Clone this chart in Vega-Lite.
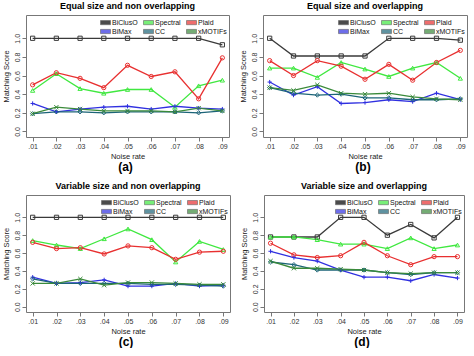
{
  "$schema": "https://vega.github.io/schema/vega-lite/v6.json",
  "background": "white",
  "padding": {"left": 1, "top": 1, "right": 0, "bottom": 0},
  "config": {
    "font": "Liberation Sans",
    "view": {"stroke": "#777777", "strokeWidth": 1},
    "axis": {"domain": false, "grid": false, "tickColor": "#777777", "tickSize": 4, "labelFontSize": 7, "labelColor": "#333333", "titleFontSize": 7.5, "titleFontWeight": "normal", "titleColor": "#222222", "labelFont": "Liberation Sans", "titleFont": "Liberation Sans"},
    "title": {"fontSize": 9, "fontWeight": "bold", "font": "Liberation Sans", "color": "#000000"}
  },
  "data": {"values": [
    {"p":"a","m":"BiClusO","x":0.01,"y":1},{"p":"a","m":"BiClusO","x":0.02,"y":1},{"p":"a","m":"BiClusO","x":0.03,"y":1},{"p":"a","m":"BiClusO","x":0.04,"y":1},{"p":"a","m":"BiClusO","x":0.05,"y":1},{"p":"a","m":"BiClusO","x":0.06,"y":1},{"p":"a","m":"BiClusO","x":0.07,"y":1},{"p":"a","m":"BiClusO","x":0.08,"y":1},{"p":"a","m":"BiClusO","x":0.09,"y":0.93},
    {"p":"a","m":"Spectral","x":0.01,"y":0.44},{"p":"a","m":"Spectral","x":0.02,"y":0.62},{"p":"a","m":"Spectral","x":0.03,"y":0.46},{"p":"a","m":"Spectral","x":0.04,"y":0.41},{"p":"a","m":"Spectral","x":0.05,"y":0.45},{"p":"a","m":"Spectral","x":0.06,"y":0.45},{"p":"a","m":"Spectral","x":0.07,"y":0.26},{"p":"a","m":"Spectral","x":0.08,"y":0.49},{"p":"a","m":"Spectral","x":0.09,"y":0.55},
    {"p":"a","m":"Plaid","x":0.01,"y":0.50},{"p":"a","m":"Plaid","x":0.02,"y":0.63},{"p":"a","m":"Plaid","x":0.03,"y":0.57},{"p":"a","m":"Plaid","x":0.04,"y":0.47},{"p":"a","m":"Plaid","x":0.05,"y":0.71},{"p":"a","m":"Plaid","x":0.06,"y":0.59},{"p":"a","m":"Plaid","x":0.07,"y":0.64},{"p":"a","m":"Plaid","x":0.08,"y":0.35},{"p":"a","m":"Plaid","x":0.09,"y":0.79},
    {"p":"a","m":"BiMax","x":0.01,"y":0.30},{"p":"a","m":"BiMax","x":0.02,"y":0.21},{"p":"a","m":"BiMax","x":0.03,"y":0.24},{"p":"a","m":"BiMax","x":0.04,"y":0.26},{"p":"a","m":"BiMax","x":0.05,"y":0.27},{"p":"a","m":"BiMax","x":0.06,"y":0.24},{"p":"a","m":"BiMax","x":0.07,"y":0.27},{"p":"a","m":"BiMax","x":0.08,"y":0.25},{"p":"a","m":"BiMax","x":0.09,"y":0.24},
    {"p":"a","m":"CC","x":0.01,"y":0.19},{"p":"a","m":"CC","x":0.02,"y":0.21},{"p":"a","m":"CC","x":0.03,"y":0.21},{"p":"a","m":"CC","x":0.04,"y":0.20},{"p":"a","m":"CC","x":0.05,"y":0.21},{"p":"a","m":"CC","x":0.06,"y":0.21},{"p":"a","m":"CC","x":0.07,"y":0.21},{"p":"a","m":"CC","x":0.08,"y":0.20},{"p":"a","m":"CC","x":0.09,"y":0.22},
    {"p":"a","m":"xMOTIFs","x":0.01,"y":0.19},{"p":"a","m":"xMOTIFs","x":0.02,"y":0.26},{"p":"a","m":"xMOTIFs","x":0.03,"y":0.24},{"p":"a","m":"xMOTIFs","x":0.04,"y":0.22},{"p":"a","m":"xMOTIFs","x":0.05,"y":0.22},{"p":"a","m":"xMOTIFs","x":0.06,"y":0.22},{"p":"a","m":"xMOTIFs","x":0.07,"y":0.21},{"p":"a","m":"xMOTIFs","x":0.08,"y":0.25},{"p":"a","m":"xMOTIFs","x":0.09,"y":0.22},

    {"p":"b","m":"BiClusO","x":0.01,"y":1},{"p":"b","m":"BiClusO","x":0.02,"y":0.81},{"p":"b","m":"BiClusO","x":0.03,"y":0.81},{"p":"b","m":"BiClusO","x":0.04,"y":0.81},{"p":"b","m":"BiClusO","x":0.05,"y":0.81},{"p":"b","m":"BiClusO","x":0.06,"y":1},{"p":"b","m":"BiClusO","x":0.07,"y":1},{"p":"b","m":"BiClusO","x":0.08,"y":1},{"p":"b","m":"BiClusO","x":0.09,"y":0.98},
    {"p":"b","m":"Spectral","x":0.01,"y":0.68},{"p":"b","m":"Spectral","x":0.02,"y":0.68},{"p":"b","m":"Spectral","x":0.03,"y":0.58},{"p":"b","m":"Spectral","x":0.04,"y":0.74},{"p":"b","m":"Spectral","x":0.05,"y":0.67},{"p":"b","m":"Spectral","x":0.06,"y":0.59},{"p":"b","m":"Spectral","x":0.07,"y":0.68},{"p":"b","m":"Spectral","x":0.08,"y":0.74},{"p":"b","m":"Spectral","x":0.09,"y":0.57},
    {"p":"b","m":"Plaid","x":0.01,"y":0.76},{"p":"b","m":"Plaid","x":0.02,"y":0.60},{"p":"b","m":"Plaid","x":0.03,"y":0.76},{"p":"b","m":"Plaid","x":0.04,"y":0.70},{"p":"b","m":"Plaid","x":0.05,"y":0.56},{"p":"b","m":"Plaid","x":0.06,"y":0.72},{"p":"b","m":"Plaid","x":0.07,"y":0.55},{"p":"b","m":"Plaid","x":0.08,"y":0.74},{"p":"b","m":"Plaid","x":0.09,"y":0.87},
    {"p":"b","m":"BiMax","x":0.01,"y":0.53},{"p":"b","m":"BiMax","x":0.02,"y":0.39},{"p":"b","m":"BiMax","x":0.03,"y":0.48},{"p":"b","m":"BiMax","x":0.04,"y":0.30},{"p":"b","m":"BiMax","x":0.05,"y":0.31},{"p":"b","m":"BiMax","x":0.06,"y":0.34},{"p":"b","m":"BiMax","x":0.07,"y":0.32},{"p":"b","m":"BiMax","x":0.08,"y":0.41},{"p":"b","m":"BiMax","x":0.09,"y":0.34},
    {"p":"b","m":"CC","x":0.01,"y":0.47},{"p":"b","m":"CC","x":0.02,"y":0.41},{"p":"b","m":"CC","x":0.03,"y":0.39},{"p":"b","m":"CC","x":0.04,"y":0.40},{"p":"b","m":"CC","x":0.05,"y":0.36},{"p":"b","m":"CC","x":0.06,"y":0.36},{"p":"b","m":"CC","x":0.07,"y":0.34},{"p":"b","m":"CC","x":0.08,"y":0.34},{"p":"b","m":"CC","x":0.09,"y":0.35},
    {"p":"b","m":"xMOTIFs","x":0.01,"y":0.47},{"p":"b","m":"xMOTIFs","x":0.02,"y":0.44},{"p":"b","m":"xMOTIFs","x":0.03,"y":0.50},{"p":"b","m":"xMOTIFs","x":0.04,"y":0.41},{"p":"b","m":"xMOTIFs","x":0.05,"y":0.40},{"p":"b","m":"xMOTIFs","x":0.06,"y":0.41},{"p":"b","m":"xMOTIFs","x":0.07,"y":0.37},{"p":"b","m":"xMOTIFs","x":0.08,"y":0.35},{"p":"b","m":"xMOTIFs","x":0.09,"y":0.34},

    {"p":"c","m":"BiClusO","x":0.01,"y":1},{"p":"c","m":"BiClusO","x":0.02,"y":1},{"p":"c","m":"BiClusO","x":0.03,"y":1},{"p":"c","m":"BiClusO","x":0.04,"y":1},{"p":"c","m":"BiClusO","x":0.05,"y":1},{"p":"c","m":"BiClusO","x":0.06,"y":1},{"p":"c","m":"BiClusO","x":0.07,"y":1},{"p":"c","m":"BiClusO","x":0.08,"y":1},{"p":"c","m":"BiClusO","x":0.09,"y":1},
    {"p":"c","m":"Spectral","x":0.01,"y":0.74},{"p":"c","m":"Spectral","x":0.02,"y":0.69},{"p":"c","m":"Spectral","x":0.03,"y":0.65},{"p":"c","m":"Spectral","x":0.04,"y":0.76},{"p":"c","m":"Spectral","x":0.05,"y":0.87},{"p":"c","m":"Spectral","x":0.06,"y":0.75},{"p":"c","m":"Spectral","x":0.07,"y":0.50},{"p":"c","m":"Spectral","x":0.08,"y":0.73},{"p":"c","m":"Spectral","x":0.09,"y":0.64},
    {"p":"c","m":"Plaid","x":0.01,"y":0.72},{"p":"c","m":"Plaid","x":0.02,"y":0.65},{"p":"c","m":"Plaid","x":0.03,"y":0.66},{"p":"c","m":"Plaid","x":0.04,"y":0.59},{"p":"c","m":"Plaid","x":0.05,"y":0.68},{"p":"c","m":"Plaid","x":0.06,"y":0.66},{"p":"c","m":"Plaid","x":0.07,"y":0.53},{"p":"c","m":"Plaid","x":0.08,"y":0.61},{"p":"c","m":"Plaid","x":0.09,"y":0.62},
    {"p":"c","m":"BiMax","x":0.01,"y":0.33},{"p":"c","m":"BiMax","x":0.02,"y":0.26},{"p":"c","m":"BiMax","x":0.03,"y":0.27},{"p":"c","m":"BiMax","x":0.04,"y":0.30},{"p":"c","m":"BiMax","x":0.05,"y":0.23},{"p":"c","m":"BiMax","x":0.06,"y":0.23},{"p":"c","m":"BiMax","x":0.07,"y":0.26},{"p":"c","m":"BiMax","x":0.08,"y":0.23},{"p":"c","m":"BiMax","x":0.09,"y":0.24},
    {"p":"c","m":"CC","x":0.01,"y":0.31},{"p":"c","m":"CC","x":0.02,"y":0.26},{"p":"c","m":"CC","x":0.03,"y":0.26},{"p":"c","m":"CC","x":0.04,"y":0.26},{"p":"c","m":"CC","x":0.05,"y":0.26},{"p":"c","m":"CC","x":0.06,"y":0.25},{"p":"c","m":"CC","x":0.07,"y":0.25},{"p":"c","m":"CC","x":0.08,"y":0.24},{"p":"c","m":"CC","x":0.09,"y":0.23},
    {"p":"c","m":"xMOTIFs","x":0.01,"y":0.26},{"p":"c","m":"xMOTIFs","x":0.02,"y":0.26},{"p":"c","m":"xMOTIFs","x":0.03,"y":0.31},{"p":"c","m":"xMOTIFs","x":0.04,"y":0.24},{"p":"c","m":"xMOTIFs","x":0.05,"y":0.27},{"p":"c","m":"xMOTIFs","x":0.06,"y":0.27},{"p":"c","m":"xMOTIFs","x":0.07,"y":0.26},{"p":"c","m":"xMOTIFs","x":0.08,"y":0.25},{"p":"c","m":"xMOTIFs","x":0.09,"y":0.25},

    {"p":"d","m":"BiClusO","x":0.01,"y":0.78},{"p":"d","m":"BiClusO","x":0.02,"y":0.78},{"p":"d","m":"BiClusO","x":0.03,"y":0.78},{"p":"d","m":"BiClusO","x":0.04,"y":1},{"p":"d","m":"BiClusO","x":0.05,"y":1},{"p":"d","m":"BiClusO","x":0.06,"y":0.80},{"p":"d","m":"BiClusO","x":0.07,"y":0.92},{"p":"d","m":"BiClusO","x":0.08,"y":0.77},{"p":"d","m":"BiClusO","x":0.09,"y":1},
    {"p":"d","m":"Spectral","x":0.01,"y":0.78},{"p":"d","m":"Spectral","x":0.02,"y":0.78},{"p":"d","m":"Spectral","x":0.03,"y":0.75},{"p":"d","m":"Spectral","x":0.04,"y":0.70},{"p":"d","m":"Spectral","x":0.05,"y":0.70},{"p":"d","m":"Spectral","x":0.06,"y":0.65},{"p":"d","m":"Spectral","x":0.07,"y":0.77},{"p":"d","m":"Spectral","x":0.08,"y":0.65},{"p":"d","m":"Spectral","x":0.09,"y":0.69},
    {"p":"d","m":"Plaid","x":0.01,"y":0.71},{"p":"d","m":"Plaid","x":0.02,"y":0.58},{"p":"d","m":"Plaid","x":0.03,"y":0.55},{"p":"d","m":"Plaid","x":0.04,"y":0.57},{"p":"d","m":"Plaid","x":0.05,"y":0.72},{"p":"d","m":"Plaid","x":0.06,"y":0.57},{"p":"d","m":"Plaid","x":0.07,"y":0.47},{"p":"d","m":"Plaid","x":0.08,"y":0.56},{"p":"d","m":"Plaid","x":0.09,"y":0.56},
    {"p":"d","m":"BiMax","x":0.01,"y":0.62},{"p":"d","m":"BiMax","x":0.02,"y":0.55},{"p":"d","m":"BiMax","x":0.03,"y":0.51},{"p":"d","m":"BiMax","x":0.04,"y":0.41},{"p":"d","m":"BiMax","x":0.05,"y":0.33},{"p":"d","m":"BiMax","x":0.06,"y":0.33},{"p":"d","m":"BiMax","x":0.07,"y":0.29},{"p":"d","m":"BiMax","x":0.08,"y":0.36},{"p":"d","m":"BiMax","x":0.09,"y":0.32},
    {"p":"d","m":"CC","x":0.01,"y":0.50},{"p":"d","m":"CC","x":0.02,"y":0.47},{"p":"d","m":"CC","x":0.03,"y":0.41},{"p":"d","m":"CC","x":0.04,"y":0.41},{"p":"d","m":"CC","x":0.05,"y":0.41},{"p":"d","m":"CC","x":0.06,"y":0.38},{"p":"d","m":"CC","x":0.07,"y":0.36},{"p":"d","m":"CC","x":0.08,"y":0.38},{"p":"d","m":"CC","x":0.09,"y":0.38},
    {"p":"d","m":"xMOTIFs","x":0.01,"y":0.51},{"p":"d","m":"xMOTIFs","x":0.02,"y":0.43},{"p":"d","m":"xMOTIFs","x":0.03,"y":0.43},{"p":"d","m":"xMOTIFs","x":0.04,"y":0.42},{"p":"d","m":"xMOTIFs","x":0.05,"y":0.41},{"p":"d","m":"xMOTIFs","x":0.06,"y":0.38},{"p":"d","m":"xMOTIFs","x":0.07,"y":0.37},{"p":"d","m":"xMOTIFs","x":0.08,"y":0.38},{"p":"d","m":"xMOTIFs","x":0.09,"y":0.38}
  ]},
  "resolve": {"scale": {"color": "independent", "fill": "independent", "shape": "independent"}},
  "spacing": 8,
  "vconcat": [
    {
      "spacing": 8,
      "resolve": {"scale": {"color": "independent", "fill": "independent", "shape": "independent"}},
      "hconcat": [
        {
          "title": {"text": "(a)", "orient": "bottom", "anchor": "middle", "fontSize": 12, "offset": 2, "dx": 10},
          "resolve": {"scale": {"color": "independent", "fill": "independent", "shape": "independent"}},
          "vconcat": [{
            "width": 203, "height": 122,
            "title": {"text": "Equal size and non overlapping", "frame": "group", "anchor": "middle", "offset": 4},
            "transform": [{"filter": "datum.p === 'a'"}],
            "encoding": {
              "x": {"field": "x", "type": "quantitative", "title": "Noise rate", "scale": {"domain": [0.0072, 0.0928], "nice": false, "zero": false}, "axis": {"values": [0.01,0.02,0.03,0.04,0.05,0.06,0.07,0.08,0.09], "labelExpr": "substring(format(datum.value,'.2f'),1)", "labelPadding": 1, "titlePadding": 3, "labelOverlap": false, "labelFlush": false}},
              "y": {"field": "y", "type": "quantitative", "title": "Matching Score", "scale": {"domain": [-0.06, 1.25], "nice": false}, "axis": {"values": [0,0.2,0.4,0.6,0.8,1], "format": ".1f", "labelAngle": -90, "labelPadding": 2, "titlePadding": 3}},
              "color": {"field": "m", "type": "nominal", "legend": null, "scale": {"domain": ["BiClusO","Spectral","Plaid","BiMax","CC","xMOTIFs"], "range": ["#3a3a3a","#40e840","#e83030","#3030e0","#1c6478","#3a8a3a"]}}
            },
            "layer": [
              {"mark": {"type": "line", "strokeWidth": 1.3}, "encoding": {}},
              {"mark": {"type": "point", "filled": false, "size": 18, "strokeWidth": 1, "opacity": 1}, "encoding": {"shape": {"field": "m", "type": "nominal", "legend": null, "scale": {"domain": ["xMOTIFs","CC","BiMax","Plaid","Spectral","BiClusO"], "range": ["M-1,-1L1,1M-1,1L1,-1","diamond","M-1,0H1M0,-1V1","circle","triangle-up","square"]}}}},
              {"mark": {"type": "square", "filled": true, "size": 20, "stroke": "#222222", "strokeWidth": 0.6}, "transform": [{"filter": "datum.y > 5"}], "encoding": {"fill": {"field": "m", "type": "nominal", "scale": {"domain": ["BiClusO","BiMax","Spectral","CC","Plaid","xMOTIFs"], "range": ["#000000","#3030e0","#40e840","#1c6478","#e83030","#3a8a3a"]}, "legend": {"orient": "top-right", "columns": 3, "title": null, "symbolType": "M-1,-0.42H1V0.42H-1Z", "symbolSize": 100, "symbolStrokeColor": "#222222", "symbolStrokeWidth": 0.6, "labelFontSize": 7, "labelColor": "#111111", "rowPadding": 0, "columnPadding": 4, "offset": 2, "padding": 0, "labelOffset": 1}}}}
            ]
          }]
        },
        {
          "title": {"text": "(b)", "orient": "bottom", "anchor": "middle", "fontSize": 12, "offset": 2, "dx": 10},
          "resolve": {"scale": {"color": "independent", "fill": "independent", "shape": "independent"}},
          "vconcat": [{
            "width": 204, "height": 122,
            "title": {"text": "Equal size and overlapping", "frame": "group", "anchor": "middle", "offset": 4},
            "transform": [{"filter": "datum.p === 'b'"}],
            "encoding": {
              "x": {"field": "x", "type": "quantitative", "title": "Noise rate", "scale": {"domain": [0.0072, 0.0928], "nice": false, "zero": false}, "axis": {"values": [0.01,0.02,0.03,0.04,0.05,0.06,0.07,0.08,0.09], "labelExpr": "substring(format(datum.value,'.2f'),1)", "labelPadding": 1, "titlePadding": 3, "labelOverlap": false, "labelFlush": false}},
              "y": {"field": "y", "type": "quantitative", "title": "Matching Score", "scale": {"domain": [-0.06, 1.25], "nice": false}, "axis": {"values": [0,0.2,0.4,0.6,0.8,1], "format": ".1f", "labelAngle": -90, "labelPadding": 2, "titlePadding": 3}},
              "color": {"field": "m", "type": "nominal", "legend": null, "scale": {"domain": ["BiClusO","Spectral","Plaid","BiMax","CC","xMOTIFs"], "range": ["#3a3a3a","#40e840","#e83030","#3030e0","#1c6478","#3a8a3a"]}}
            },
            "layer": [
              {"mark": {"type": "line", "strokeWidth": 1.3}, "encoding": {}},
              {"mark": {"type": "point", "filled": false, "size": 18, "strokeWidth": 1, "opacity": 1}, "encoding": {"shape": {"field": "m", "type": "nominal", "legend": null, "scale": {"domain": ["xMOTIFs","CC","BiMax","Plaid","Spectral","BiClusO"], "range": ["M-1,-1L1,1M-1,1L1,-1","diamond","M-1,0H1M0,-1V1","circle","triangle-up","square"]}}}},
              {"mark": {"type": "square", "filled": true, "size": 20, "stroke": "#222222", "strokeWidth": 0.6}, "transform": [{"filter": "datum.y > 5"}], "encoding": {"fill": {"field": "m", "type": "nominal", "scale": {"domain": ["BiClusO","BiMax","Spectral","CC","Plaid","xMOTIFs"], "range": ["#000000","#3030e0","#40e840","#1c6478","#e83030","#3a8a3a"]}, "legend": {"orient": "top-right", "columns": 3, "title": null, "symbolType": "M-1,-0.42H1V0.42H-1Z", "symbolSize": 100, "symbolStrokeColor": "#222222", "symbolStrokeWidth": 0.6, "labelFontSize": 7, "labelColor": "#111111", "rowPadding": 0, "columnPadding": 4, "offset": 2, "padding": 0, "labelOffset": 1}}}}
            ]
          }]
        }
      ]
    },
    {
      "spacing": 8,
      "resolve": {"scale": {"color": "independent", "fill": "independent", "shape": "independent"}},
      "hconcat": [
        {
          "title": {"text": "(c)", "orient": "bottom", "anchor": "middle", "fontSize": 12, "offset": 2, "dx": 10},
          "resolve": {"scale": {"color": "independent", "fill": "independent", "shape": "independent"}},
          "vconcat": [{
            "width": 204, "height": 117,
            "title": {"text": "Variable size and non overlapping", "frame": "group", "anchor": "middle", "offset": 4},
            "transform": [{"filter": "datum.p === 'c'"}],
            "encoding": {
              "x": {"field": "x", "type": "quantitative", "title": "Noise rate", "scale": {"domain": [0.0072, 0.0928], "nice": false, "zero": false}, "axis": {"values": [0.01,0.02,0.03,0.04,0.05,0.06,0.07,0.08,0.09], "labelExpr": "substring(format(datum.value,'.2f'),1)", "labelPadding": 1, "titlePadding": 3, "labelOverlap": false, "labelFlush": false}},
              "y": {"field": "y", "type": "quantitative", "title": "Matching Score", "scale": {"domain": [-0.06, 1.25], "nice": false}, "axis": {"values": [0,0.2,0.4,0.6,0.8,1], "format": ".1f", "labelAngle": -90, "labelPadding": 2, "titlePadding": 3}},
              "color": {"field": "m", "type": "nominal", "legend": null, "scale": {"domain": ["BiClusO","Spectral","Plaid","BiMax","CC","xMOTIFs"], "range": ["#3a3a3a","#40e840","#e83030","#3030e0","#1c6478","#3a8a3a"]}}
            },
            "layer": [
              {"mark": {"type": "line", "strokeWidth": 1.3}, "encoding": {}},
              {"mark": {"type": "point", "filled": false, "size": 18, "strokeWidth": 1, "opacity": 1}, "encoding": {"shape": {"field": "m", "type": "nominal", "legend": null, "scale": {"domain": ["xMOTIFs","CC","BiMax","Plaid","Spectral","BiClusO"], "range": ["M-1,-1L1,1M-1,1L1,-1","diamond","M-1,0H1M0,-1V1","circle","triangle-up","square"]}}}},
              {"mark": {"type": "square", "filled": true, "size": 20, "stroke": "#222222", "strokeWidth": 0.6}, "transform": [{"filter": "datum.y > 5"}], "encoding": {"fill": {"field": "m", "type": "nominal", "scale": {"domain": ["BiClusO","BiMax","Spectral","CC","Plaid","xMOTIFs"], "range": ["#000000","#3030e0","#40e840","#1c6478","#e83030","#3a8a3a"]}, "legend": {"orient": "top-right", "columns": 3, "title": null, "symbolType": "M-1,-0.42H1V0.42H-1Z", "symbolSize": 100, "symbolStrokeColor": "#222222", "symbolStrokeWidth": 0.6, "labelFontSize": 7, "labelColor": "#111111", "rowPadding": 0, "columnPadding": 4, "offset": 2, "padding": 0, "labelOffset": 1}}}}
            ]
          }]
        },
        {
          "title": {"text": "(d)", "orient": "bottom", "anchor": "middle", "fontSize": 12, "offset": 2, "dx": 10},
          "resolve": {"scale": {"color": "independent", "fill": "independent", "shape": "independent"}},
          "vconcat": [{
            "width": 200, "height": 117,
            "title": {"text": "Variable size and overlapping", "frame": "group", "anchor": "middle", "offset": 4},
            "transform": [{"filter": "datum.p === 'd'"}],
            "encoding": {
              "x": {"field": "x", "type": "quantitative", "title": "Noise rate", "scale": {"domain": [0.0072, 0.0928], "nice": false, "zero": false}, "axis": {"values": [0.01,0.02,0.03,0.04,0.05,0.06,0.07,0.08,0.09], "labelExpr": "substring(format(datum.value,'.2f'),1)", "labelPadding": 1, "titlePadding": 3, "labelOverlap": false, "labelFlush": false}},
              "y": {"field": "y", "type": "quantitative", "title": "Matching Score", "scale": {"domain": [-0.06, 1.25], "nice": false}, "axis": {"values": [0,0.2,0.4,0.6,0.8,1], "format": ".1f", "labelAngle": -90, "labelPadding": 2, "titlePadding": 3}},
              "color": {"field": "m", "type": "nominal", "legend": null, "scale": {"domain": ["BiClusO","Spectral","Plaid","BiMax","CC","xMOTIFs"], "range": ["#3a3a3a","#40e840","#e83030","#3030e0","#1c6478","#3a8a3a"]}}
            },
            "layer": [
              {"mark": {"type": "line", "strokeWidth": 1.3}, "encoding": {}},
              {"mark": {"type": "point", "filled": false, "size": 18, "strokeWidth": 1, "opacity": 1}, "encoding": {"shape": {"field": "m", "type": "nominal", "legend": null, "scale": {"domain": ["xMOTIFs","CC","BiMax","Plaid","Spectral","BiClusO"], "range": ["M-1,-1L1,1M-1,1L1,-1","diamond","M-1,0H1M0,-1V1","circle","triangle-up","square"]}}}},
              {"mark": {"type": "square", "filled": true, "size": 20, "stroke": "#222222", "strokeWidth": 0.6}, "transform": [{"filter": "datum.y > 5"}], "encoding": {"fill": {"field": "m", "type": "nominal", "scale": {"domain": ["BiClusO","BiMax","Spectral","CC","Plaid","xMOTIFs"], "range": ["#000000","#3030e0","#40e840","#1c6478","#e83030","#3a8a3a"]}, "legend": {"orient": "top-right", "columns": 3, "title": null, "symbolType": "M-1,-0.42H1V0.42H-1Z", "symbolSize": 100, "symbolStrokeColor": "#222222", "symbolStrokeWidth": 0.6, "labelFontSize": 7, "labelColor": "#111111", "rowPadding": 0, "columnPadding": 4, "offset": 2, "padding": 0, "labelOffset": 1}}}}
            ]
          }]
        }
      ]
    }
  ]
}
